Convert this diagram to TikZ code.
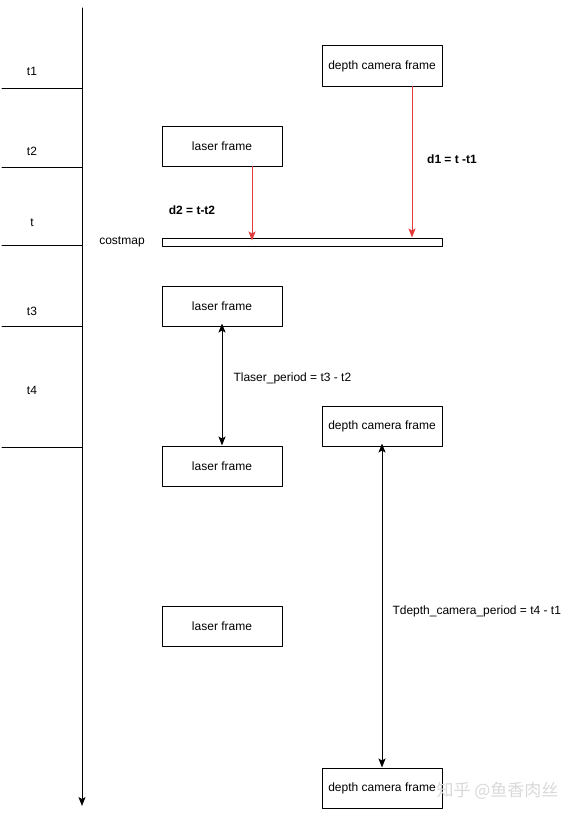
\documentclass[tikz,border=0pt]{standalone}
\usepackage{fontspec}
\usetikzlibrary{arrows.meta}
\setmainfont{Liberation Sans}
\newfontfamily\cjk{Noto Sans CJK SC}
\definecolor{arrowred}{RGB}{228,58,58}
\begin{document}
\begin{tikzpicture}[x=1pt,y=-1pt,>={Stealth[length=9pt,width=7pt,inset=2pt]}, font=\fontsize{12}{14}\selectfont, line join=round, line cap=round,
	frame/.style={draw, line width=1pt, minimum width=120pt, minimum height=40pt, inner sep=0pt},
	delay/.style={->, draw=arrowred, fill=arrowred, line width=1pt},
	period/.style={<->, line width=1pt}]
	\useasboundingbox (0,0) rectangle (573,816);
	\path 
	(82,8) coordinate (top)
	(82,806) coordinate (bottom)
	;
	% time axis and ticks
	\draw[->, line width=1pt] (top)--(bottom);
	\foreach \y/\lab/\ly in {88/t1/71, 167/t2/151, 245/t/223, 326/t3/311, 447/t4/390}{
		\draw[line width=1pt] (2,\y)--(82,\y);
		\node at (32,\ly) {\lab};
	}
	\node (costlab) at (122,242) {costmap};
	% frames
	\node[frame] (dc1) at (382,66) {depth camera frame};
	\node[frame] (lf1) at (222,146) {laser frame};
	\node[draw, line width=1pt, minimum width=280pt, minimum height=8pt, inner sep=0pt] (cm) at (302,242) {};
	\node[frame] (lf2) at (222,306) {laser frame};
	\node[frame] (dc2) at (382,426) {depth camera frame};
	\node[frame] (lf3) at (222,466) {laser frame};
	\node[frame] (lf4) at (222,626) {laser frame};
	\node[frame] (dc3) at (382,788) {depth camera frame};
	% delays
	\draw[delay] ([xshift=30pt]lf1.south)--([xshift=30pt,yshift=-3pt]lf1.south |- cm.north);
	\draw[delay] ([xshift=30pt]dc1.south)--([xshift=30pt]dc1.south |- cm.north);
	\node[font=\fontsize{12}{14}\selectfont\bfseries] (d1) at (452,159) {d1 = t -t1};
	\node[font=\fontsize{12}{14}\selectfont\bfseries] (d2) at (192,210) {d2 = t-t2};
	% periods
	\draw[period] ([yshift=3pt]lf2.south)--(lf3.north);
	\node[anchor=west] (tl) at (230,378) {Tlaser\_period = t3 - t2};
	\draw[period] ([yshift=3pt]dc2.south)--(dc3.north);
	\node[anchor=west] (td) at (389,611) {Tdepth\_camera\_period = t4 - t1};
	\node[anchor=west, text=black!15, font=\cjk\fontsize{17}{19}\selectfont] (wm) at (433,791) {知乎 @鱼香肉丝};
\end{tikzpicture}
\end{document}
